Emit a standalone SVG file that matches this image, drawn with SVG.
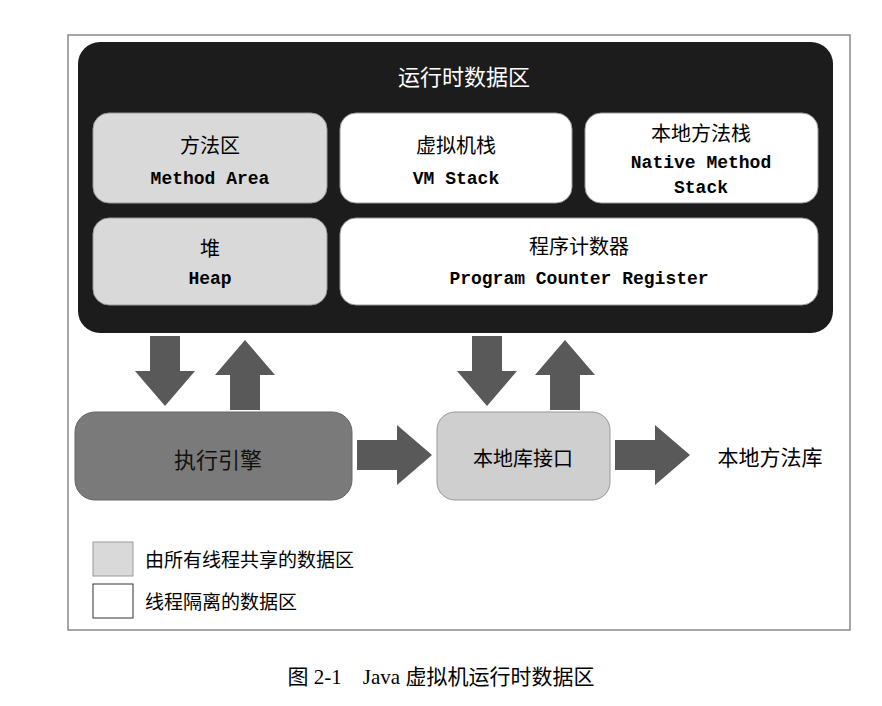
<svg xmlns="http://www.w3.org/2000/svg" width="882" height="706" viewBox="0 0 882 706">
<style>
.cn{font-family:"Noto Sans CJK SC","Noto Sans",sans-serif;}
.mono{font-family:"Liberation Mono","DejaVu Sans Mono",monospace;font-weight:bold;}
.shared{fill:#d9d9d9;stroke:#999;stroke-width:1}
.priv{fill:#fff;stroke:#999;stroke-width:1}
.arr{fill:#595959}
</style>
<rect width="882" height="706" fill="#fff"/>
<rect x="68" y="35" width="782" height="595" fill="none" stroke="#888" stroke-width="1.5"/>
<g id="runtime">
<rect x="78" y="42" width="755" height="291" rx="22" fill="#1c1c1c"/>
<text x="464" y="85" class="cn" font-size="22" fill="#fff" text-anchor="middle">运行时数据区</text>
</g>
<g id="method"><rect class="shared" x="93" y="113" width="234" height="90" rx="16"/>
<text x="210" y="153" class="cn" font-size="20" text-anchor="middle">方法区</text>
<text x="210" y="184" class="mono" font-size="18" text-anchor="middle">Method Area</text></g>
<g id="vmstack"><rect class="priv" x="340" y="113" width="232" height="90" rx="16"/>
<text x="456" y="153" class="cn" font-size="20" text-anchor="middle">虚拟机栈</text>
<text x="456" y="184" class="mono" font-size="18" text-anchor="middle">VM Stack</text></g>
<g id="native"><rect class="priv" x="585" y="113" width="233" height="90" rx="16"/>
<text x="701" y="141" class="cn" font-size="20" text-anchor="middle">本地方法栈</text>
<text x="701" y="168" class="mono" font-size="18" text-anchor="middle">Native Method</text>
<text x="701" y="193" class="mono" font-size="18" text-anchor="middle">Stack</text></g>
<g id="heap"><rect class="shared" x="93" y="218" width="234" height="87" rx="16"/>
<text x="210" y="256" class="cn" font-size="20" text-anchor="middle">堆</text>
<text x="210" y="284" class="mono" font-size="18" text-anchor="middle">Heap</text></g>
<g id="pc"><rect class="priv" x="340" y="218" width="478" height="87" rx="16"/>
<text x="579" y="254" class="cn" font-size="20" text-anchor="middle">程序计数器</text>
<text x="579" y="284" class="mono" font-size="18" text-anchor="middle">Program Counter Register</text></g>
<g id="engine"><rect x="75" y="412" width="277" height="88" rx="20" fill="#7a7a7a" stroke="#666"/>
<text x="218" y="468" class="cn" font-size="22" text-anchor="middle" fill="#111">执行引擎</text></g>
<g id="nativeif"><rect x="437" y="412" width="173" height="88" rx="18" fill="#cfcfcf" stroke="#999"/>
<text x="523" y="466" class="cn" font-size="20" text-anchor="middle">本地库接口</text></g>
<g id="nativelib"><text x="770" y="465" class="cn" font-size="21" text-anchor="middle">本地方法库</text></g>
<g id="connectors">
<path class="arr" d="M150,336 h30 v35 h15 l-30,35 l-30,-35 h15 z"/>
<path class="arr" d="M230,410 h30 v-35 h15 l-30,-35 l-30,35 h15 z"/>
<path class="arr" d="M472,336 h30 v35 h15 l-30,35 l-30,-35 h15 z"/>
<path class="arr" d="M550,410 h30 v-35 h15 l-30,-35 l-30,35 h15 z"/>
<path class="arr" d="M357,440 h40 v-15 l35,30 l-35,30 v-15 h-40 z"/>
<path class="arr" d="M615,440 h40 v-15 l35,30 l-35,30 v-15 h-40 z"/>
</g>
<g id="legend">
<rect class="shared" x="93" y="542" width="40" height="34"/>
<text x="145" y="567" class="cn" font-size="19">由所有线程共享的数据区</text>
<rect x="93" y="584" width="40" height="34" fill="#fff" stroke="#333"/>
<text x="145" y="609" class="cn" font-size="19">线程隔离的数据区</text>
</g>
<text x="441" y="684" font-family="'Liberation Serif','Noto Sans CJK SC',serif" font-size="21" text-anchor="middle">图 2-1　Java 虚拟机运行时数据区</text>
</svg>
